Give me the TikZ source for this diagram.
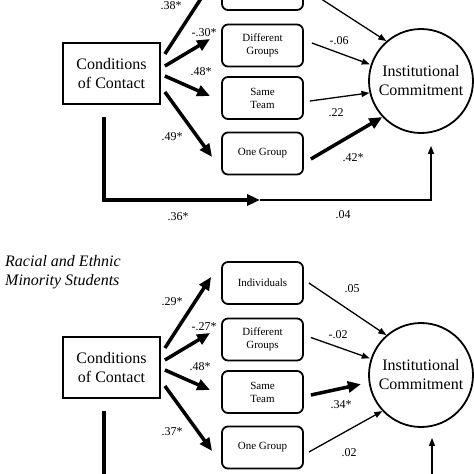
\documentclass[tikz,border=0pt]{standalone}
\usepackage{fontspec}
\setmainfont{Liberation Serif}
\usetikzlibrary{arrows.meta}

\tikzset{
  contactbox/.style={draw, line width=1.8pt, minimum width=97pt, minimum height=61pt,
    align=center, inner sep=0pt, font=\fontsize{16}{19}\selectfont},
  medbox/.style={draw, line width=1.8pt, rounded corners=6pt, minimum width=81pt,
    minimum height=42pt, align=center, inner sep=0pt, font=\fontsize{11}{13}\selectfont},
  outcome/.style={draw, circle, line width=1.8pt, minimum size=104pt, align=center,
    inner sep=0pt, font=\fontsize{16}{19}\selectfont},
  sigpath/.style={line width=3.5pt, -{Triangle[length=13pt,width=11pt]}},
  nspath/.style={line width=1.3pt, -{Triangle[length=8pt,width=6pt]}},
  coef/.style={inner sep=0pt, font=\fontsize{12}{14}\selectfont},
  grouptitle/.style={inner sep=0pt, align=left, font=\itshape\fontsize{16}{19}\selectfont}
}

\begin{document}
\begin{tikzpicture}[x=1pt, y=-1pt]
  \useasboundingbox (0,0) rectangle (474,474);
  \clip (0,0) rectangle (474,474);

  % first group
  \node[contactbox] (contactA) at (111.5,73.5) {Conditions\\of Contact};
  \node[medbox] (indA) at (262.5,-11) {};
  \node[medbox] (diffA) at (262.5,45.5) {Different\\Groups};
  \node[medbox] (sameA) at (262.5,98) {Same\\Team};
  \node[medbox] (oneA) at (262.5,153.5) {One Group};
  \node[outcome] (instA) at (421,81) {Institutional\\Commitment};

  \draw[sigpath] ([xshift=4pt,yshift=19.5pt]contactA.east) -- ([xshift=-10pt,yshift=6pt]indA.west);
  \draw[sigpath] ([xshift=4pt,yshift=7.5pt]contactA.east) -- ([xshift=-11pt,yshift=6.5pt]diffA.west);
  \draw[sigpath] ([xshift=4pt,yshift=-2.5pt]contactA.east) -- ([xshift=-11pt,yshift=2pt]sameA.west);
  \draw[sigpath] ([xshift=4pt,yshift=-18.5pt]contactA.east) -- ([xshift=-9pt,yshift=-3.5pt]oneA.west);

  \draw[nspath] ([xshift=5pt,yshift=-2pt]indA.east) -- (instA.131);
  \draw[nspath, shorten >=1pt] ([xshift=8pt,yshift=2.5pt]diffA.east) -- (instA.162);
  \draw[nspath] ([xshift=6pt,yshift=-3pt]sameA.east) -- (instA.193);
  \draw[sigpath] ([xshift=7pt,yshift=-5.5pt]oneA.east) -- (instA.223);

  \coordinate (midA) at (260,200);
  \draw[sigpath, line width=4.2pt] ([xshift=-7.5pt,yshift=-12pt]contactA.south) |- (midA);
  \draw[nspath] (midA) -| ([xshift=10pt,yshift=-12pt]instA.south);

  \node[coef] (cA1) at (171,6) {.38*};
  \node[coef] (cA2) at (204,33) {-.30*};
  \node[coef] (cA3) at (201,72) {.48*};
  \node[coef] (cA4) at (172,137) {.49*};
  \node[coef] (cA5) at (339,41) {-.06};
  \node[coef] (cA6) at (336,113) {.22};
  \node[coef] (cA7) at (353,158) {.42*};
  \node[coef] (cA8) at (178,217) {.36*};
  \node[coef] (cA9) at (343,215) {.04};

  % second group
  \node[grouptitle, anchor=west] (titleB) at (5,272) {Racial and Ethnic\\Minority Students};

  \node[contactbox] (contactB) at (111.5,367.5) {Conditions\\of Contact};
  \node[medbox] (indB) at (262.5,283) {Individuals};
  \node[medbox] (diffB) at (262.5,339.5) {Different\\Groups};
  \node[medbox] (sameB) at (262.5,392) {Same\\Team};
  \node[medbox] (oneB) at (262.5,447.5) {One Group};
  \node[outcome] (instB) at (421,375) {Institutional\\Commitment};

  \draw[sigpath] ([xshift=4pt,yshift=19.5pt]contactB.east) -- ([xshift=-10pt,yshift=6pt]indB.west);
  \draw[sigpath] ([xshift=4pt,yshift=7.5pt]contactB.east) -- ([xshift=-11pt,yshift=6.5pt]diffB.west);
  \draw[sigpath] ([xshift=4pt,yshift=-2.5pt]contactB.east) -- ([xshift=-11pt,yshift=2pt]sameB.west);
  \draw[sigpath] ([xshift=4pt,yshift=-18.5pt]contactB.east) -- ([xshift=-9pt,yshift=-3.5pt]oneB.west);

  \draw[nspath] ([xshift=5pt,yshift=0pt]indB.east) -- (instB.131);
  \draw[nspath, shorten >=1pt] ([xshift=7pt,yshift=2pt]diffB.east) -- (instB.162);
  \draw[sigpath] ([xshift=7pt,yshift=-3pt]sameB.east) -- ([xshift=-8pt]instB.190);
  \draw[nspath] ([xshift=5pt,yshift=-4.5pt]oneB.east) -- (instB.223);

  \coordinate (midB) at (260,494);
  \draw[sigpath, line width=4.2pt] ([xshift=-7.5pt,yshift=-12pt]contactB.south) |- (midB);
  \draw[nspath] (midB) -| ([xshift=11pt,yshift=-10pt]instB.south);

  \node[coef] (cB1) at (172,302) {.29*};
  \node[coef] (cB2) at (204,327) {-.27*};
  \node[coef] (cB3) at (200,367) {.48*};
  \node[coef] (cB4) at (172,432) {.37*};
  \node[coef] (cB5) at (352,289) {.05};
  \node[coef] (cB6) at (338,335) {-.02};
  \node[coef] (cB7) at (341,405) {.34*};
  \node[coef] (cB8) at (349,453) {.02};
\end{tikzpicture}
\end{document}
